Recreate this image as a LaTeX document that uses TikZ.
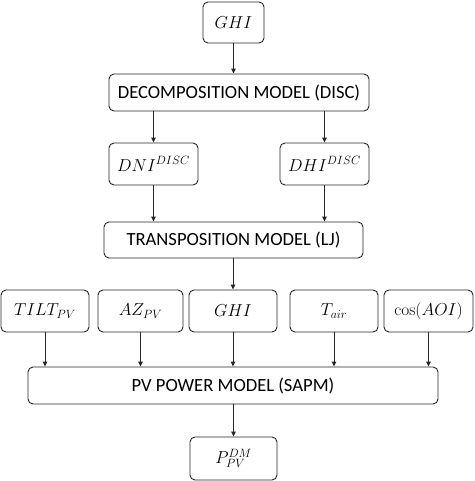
\documentclass[tikz,border=0pt]{standalone}
\usepackage[no-math]{fontspec}
\setmainfont{Carlito}
\usetikzlibrary{arrows.meta}
\begin{document}
\begin{tikzpicture}[x=1pt,y=-1pt,
  box/.style={draw=black!85, line width=0.9pt, rounded corners=5pt, inner sep=0pt, align=center},
  lbl/.style={font=\fontsize{18.6}{21}\selectfont},
  mth/.style={font=\fontsize{16.5}{19}\selectfont},
  arr/.style={draw=black!85, line width=1pt, -{Triangle[length=5pt,width=4.5pt]}}]
\useasboundingbox[fill=white] (0,0) rectangle (474,481);
\node[box,mth,minimum width=61pt,minimum height=41pt] (ghia) at (233.5,22.5) {$GHI$};
\node[box,lbl,minimum width=260pt,minimum height=37pt] (dec) at (239,92.5) {DECOMPOSITION MODEL (DISC)};
\node[box,mth,minimum width=89pt,minimum height=42pt] (dni) at (153.5,164) {$DNI^{DISC}$};
\node[box,mth,minimum width=89pt,minimum height=42pt] (dhi) at (324.5,164) {$DHI^{DISC}$};
\node[box,lbl,minimum width=259pt,minimum height=36pt] (tra) at (233.5,240) {TRANSPOSITION MODEL (LJ)};
\node[box,mth,minimum width=88pt,minimum height=42pt] (tilt) at (45,311) {$TILT_{PV}$};
\node[box,mth,minimum width=85pt,minimum height=42pt] (az) at (140.5,311) {$AZ_{PV}$};
\node[box,mth,minimum width=88pt,minimum height=42pt] (ghib) at (233,311) {$GHI$};
\node[box,mth,minimum width=88pt,minimum height=42pt] (tair) at (334,311) {$T_{air}$};
\node[box,mth,minimum width=89pt,minimum height=42pt] (cos) at (428.5,311) {$\cos(AOI)$};
\node[box,lbl,minimum width=410pt,minimum height=37pt] (pv) at (233,385.5) {PV POWER MODEL (SAPM)};
\node[box,mth,minimum width=87pt,minimum height=43pt] (p) at (233.5,458.5) {$P_{PV}^{DM}$};
\draw[arr] (ghia.south) -- (ghia.south |- dec.north);
\draw[arr] (dni.north |- dec.south) -- (dni.north);
\draw[arr] (dhi.north |- dec.south) -- (dhi.north);
\draw[arr] (dni.south) -- (dni.south |- tra.north);
\draw[arr] (dhi.south) -- (dhi.south |- tra.north);
\draw[arr] (ghib.north |- tra.south) -- (ghib.north);
\foreach \n in {tilt,az,ghib,tair,cos} \draw[arr] (\n.south) -- (\n.south |- pv.north);
\draw[arr] (pv.south -| p.north) -- (p.north);
\end{tikzpicture}
\end{document}
